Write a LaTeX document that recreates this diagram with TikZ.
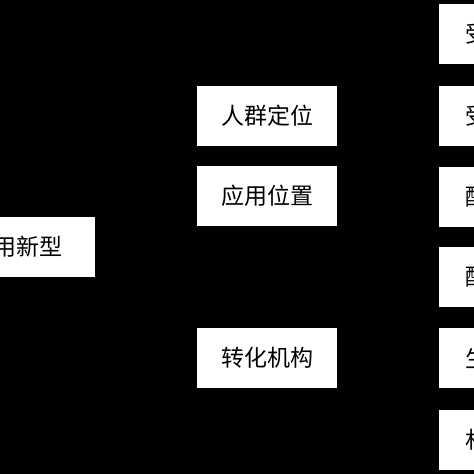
\documentclass[tikz,border=0pt]{standalone}
\usepackage{fontspec}
\newfontfamily\cjk{Noto Sans CJK SC}
\usepackage{tikz}

\begin{document}
\begin{tikzpicture}[line cap=round,line join=round,x=1pt,y=-1pt,
  box/.style={fill=white,inner sep=0pt,minimum width=140pt,minimum height=60pt,
    text width=92pt,align=center,font=\cjk\fontsize{23}{27}\selectfont},
  leftbox/.style={box,minimum width=156pt,align=right},
  rightbox/.style={box,minimum width=144pt,align=left}]
\useasboundingbox (0,0) rectangle (474,474);
\clip (0,0) rectangle (474,474);
\fill[black] (0,0) rectangle (474,474);
% left
\node[leftbox] (syxx) at (17,247) {用新型};
% middle
\node[box] (rqdw) at (267,115.5) {人群定位};
\node[box] (yywz) at (267,196) {应用位置};
\node[box] (zhjg) at (267,358) {转化机构};
% right
\node[rightbox] (s1) at (511,34) {受};
\node[rightbox] (s2) at (511,115.5) {受};
\node[rightbox] (s3) at (511,197) {酯};
\node[rightbox] (s4) at (511,277) {酯};
\node[rightbox] (s5) at (511,358) {生};
\node[rightbox] (s6) at (511,439.5) {村};
\end{tikzpicture}
\end{document}
